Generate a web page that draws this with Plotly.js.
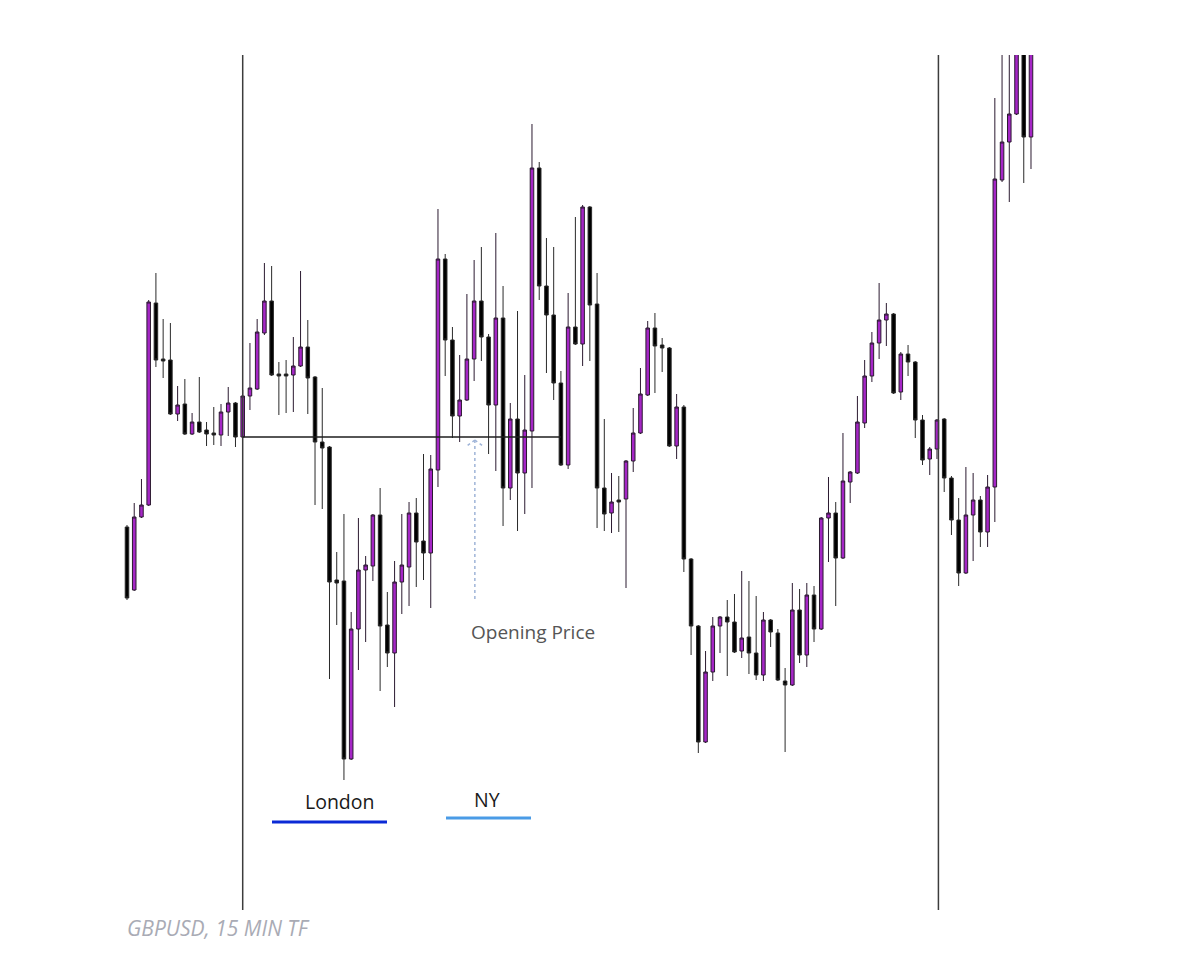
<!DOCTYPE html>
<html>
<head>
<meta charset="utf-8">
<script src="https://cdn.plot.ly/plotly-3.0.1.min.js"></script>
<style>
  html, body { margin: 0; padding: 0; background: #ffffff; }
  #chart { width: 1200px; height: 963px; }
</style>
</head>
<body>
<div id="chart"></div>
<script>
// GBPUSD 15-minute candles
const openPrice = [
  1.2473,1.2410,1.2483,1.2495,1.2697,1.2641,1.2640,1.2586,1.2596,1.2566,
  1.2578,1.2570,1.2567,1.2565,1.2588,1.2597,1.2563,1.2604,1.2611,1.2667,
  1.2699,1.2626,1.2626,1.2625,1.2634,1.2653,1.2623,1.2558,1.2553,1.2420,
  1.2419,1.2241,1.2371,1.2430,1.2434,1.2485,1.2375,1.2347,1.2418,1.2433,
  1.2487,1.2459,1.2447,1.2530,1.2741,1.2660,1.2584,1.2600,1.2641,1.2699,
  1.2663,1.2595,1.2682,1.2512,1.2581,1.2527,1.2569,1.2832,1.2714,1.2685,
  1.2617,1.2535,1.2673,1.2656,1.2793,1.2696,1.2512,1.2487,1.2500,1.2501,
  1.2539,1.2567,1.2605,1.2672,1.2655,1.2652,1.2554,1.2593,1.2441,1.2374,
  1.2258,1.2328,1.2374,1.2383,1.2378,1.2349,1.2363,1.2347,1.2325,1.2380,
  1.2367,1.2319,1.2315,1.2390,1.2345,1.2405,1.2371,1.2482,1.2487,1.2442,
  1.2518,1.2527,1.2577,1.2624,1.2657,1.2680,1.2686,1.2608,1.2646,1.2638,
  1.2580,1.2541,1.2551,1.2581,1.2522,1.2480,1.2427,1.2485,1.2500,1.2468,
  1.2513,1.2820,1.2858,1.2886,1.2970,1.2863
];
const highPrice = [
  1.2475,1.2497,1.2521,1.2700,1.2727,1.2681,1.2677,1.2614,1.2621,1.2587,
  1.2623,1.2578,1.2593,1.2596,1.2613,1.2598,1.2610,1.2657,1.2681,1.2737,
  1.2734,1.2638,1.2640,1.2663,1.2729,1.2680,1.2624,1.2612,1.2554,1.2448,
  1.2486,1.2388,1.2482,1.2444,1.2486,1.2512,1.2408,1.2439,1.2486,1.2498,
  1.2502,1.2546,1.2545,1.2791,1.2746,1.2673,1.2645,1.2706,1.2740,1.2753,
  1.2666,1.2767,1.2714,1.2597,1.2689,1.2625,1.2876,1.2838,1.2762,1.2753,
  1.2629,1.2707,1.2783,1.2795,1.2794,1.2727,1.2581,1.2527,1.2524,1.2540,
  1.2592,1.2632,1.2679,1.2687,1.2662,1.2653,1.2606,1.2595,1.2442,1.2375,
  1.2349,1.2383,1.2384,1.2400,1.2406,1.2429,1.2419,1.2404,1.2388,1.2381,
  1.2371,1.2332,1.2417,1.2411,1.2417,1.2414,1.2483,1.2523,1.2498,1.2567,
  1.2529,1.2604,1.2640,1.2668,1.2717,1.2697,1.2687,1.2648,1.2655,1.2639,
  1.2585,1.2553,1.2581,1.2582,1.2524,1.2502,1.2533,1.2527,1.2504,1.2525,
  1.2902,1.2960,1.2965,1.2980,1.2980,1.2980
];
const lowPrice = [
  1.2400,1.2409,1.2482,1.2494,1.2633,1.2622,1.2585,1.2579,1.2565,1.2565,
  1.2567,1.2554,1.2555,1.2554,1.2564,1.2553,1.2562,1.2590,1.2610,1.2665,
  1.2624,1.2585,1.2587,1.2588,1.2633,1.2586,1.2495,1.2491,1.2321,1.2375,
  1.2220,1.2240,1.2330,1.2358,1.2419,1.2309,1.2333,1.2293,1.2386,1.2394,
  1.2413,1.2420,1.2392,1.2513,1.2624,1.2562,1.2558,1.2599,1.2619,1.2639,
  1.2546,1.2529,1.2474,1.2500,1.2469,1.2486,1.2512,1.2700,1.2627,1.2600,
  1.2534,1.2531,1.2655,1.2634,1.2639,1.2472,1.2469,1.2467,1.2468,1.2412,
  1.2528,1.2566,1.2604,1.2607,1.2628,1.2553,1.2541,1.2428,1.2345,1.2247,
  1.2257,1.2319,1.2347,1.2324,1.2347,1.2342,1.2326,1.2320,1.2319,1.2353,
  1.2319,1.2248,1.2314,1.2337,1.2333,1.2358,1.2370,1.2438,1.2394,1.2441,
  1.2497,1.2526,1.2572,1.2618,1.2641,1.2654,1.2606,1.2600,1.2624,1.2562,
  1.2535,1.2525,1.2541,1.2508,1.2465,1.2414,1.2426,1.2439,1.2453,1.2453,
  1.2478,1.2818,1.2798,1.2885,1.2817,1.2831
];
const closePrice = [
  1.2402,1.2483,1.2495,1.2698,1.2640,1.2639,1.2586,1.2595,1.2566,1.2578,
  1.2568,1.2566,1.2565,1.2588,1.2597,1.2563,1.2604,1.2612,1.2668,1.2699,
  1.2625,1.2624,1.2624,1.2634,1.2653,1.2622,1.2558,1.2552,1.2418,1.2417,
  1.2241,1.2371,1.2430,1.2435,1.2485,1.2374,1.2347,1.2418,1.2435,1.2487,
  1.2458,1.2447,1.2531,1.2741,1.2660,1.2584,1.2600,1.2641,1.2699,1.2663,
  1.2595,1.2682,1.2512,1.2581,1.2527,1.2570,1.2832,1.2714,1.2685,1.2617,
  1.2535,1.2673,1.2656,1.2793,1.2695,1.2512,1.2486,1.2498,1.2498,1.2539,
  1.2567,1.2606,1.2672,1.2654,1.2652,1.2554,1.2593,1.2441,1.2374,1.2258,
  1.2328,1.2374,1.2383,1.2378,1.2348,1.2362,1.2347,1.2325,1.2380,1.2368,
  1.2320,1.2315,1.2390,1.2345,1.2405,1.2371,1.2482,1.2487,1.2442,1.2519,
  1.2528,1.2578,1.2624,1.2657,1.2680,1.2686,1.2607,1.2646,1.2638,1.2580,
  1.2540,1.2551,1.2580,1.2522,1.2480,1.2427,1.2485,1.2500,1.2468,1.2513,
  1.2821,1.2858,1.2886,1.2970,1.2863,1.2970
];
const barIndex = openPrice.map((_, i) => i);   // one 15-minute bar per index
const londonOpenBar = 16;     // bar where the London session starts
const secondMarkerBar = 112;  // bar of the second vertical marker
const openLineEndBar = 60;    // last bar reached by the opening-price line

const sessionLabels = ["London", "NY"];
const sessionColors = ["#0b2ad6", "#4a9be6"];
const captionText = "GBPUSD, 15 MIN TF";
const openingLabel = "Opening Price";

const openLevel = openPrice[londonOpenBar];
const arrowBar = 48.1;
const arrowBottom = 1.2400;

const trace = {
  type: "candlestick",
  x: barIndex,
  open: openPrice,
  high: highPrice,
  low: lowPrice,
  close: closePrice,
  increasing: { fillcolor: "#a526c6", line: { color: "#2b1a30", width: 1 } },
  decreasing: { fillcolor: "#000000", line: { color: "#2a2a2a", width: 1 } },
  whiskerwidth: 0,
  hoverinfo: "skip",
  showlegend: false
};

// pixel helpers for decorations (plot area = full width, y 55..910)
const px = v => v / 1200;
const py = v => (910 - v) / 855;

const layout = {
  width: 1200,
  height: 963,
  margin: { l: 0, r: 0, t: 55, b: 53 },
  paper_bgcolor: "#ffffff",
  plot_bgcolor: "#ffffff",
  showlegend: false,
  xaxis: {
    range: [-17.56, 148.37],
    visible: false,
    showgrid: false,
    zeroline: false,
    rangeslider: { visible: false },
    fixedrange: true
  },
  yaxis: {
    range: [1.2090, 1.2945],
    visible: false,
    showgrid: false,
    zeroline: false,
    fixedrange: true
  },
  shapes: [
    { type: "line", xref: "x", yref: "paper", x0: londonOpenBar, x1: londonOpenBar, y0: 0, y1: 1,
      line: { color: "#3c3c3c", width: 1.5 }, layer: "above" },
    { type: "line", xref: "x", yref: "paper", x0: secondMarkerBar + 0.2, x1: secondMarkerBar + 0.2, y0: 0, y1: 1,
      line: { color: "#3c3c3c", width: 1.5 }, layer: "above" },
    { type: "line", xref: "x", yref: "y", x0: londonOpenBar, x1: openLineEndBar, y0: openLevel, y1: openLevel,
      line: { color: "#1e1e1e", width: 1.5 }, layer: "above" },
    { type: "line", xref: "x", yref: "y", x0: arrowBar, x1: arrowBar, y0: openLevel - 0.0003, y1: arrowBottom,
      line: { color: "#9fb4d8", width: 1.5, dash: "dot" }, layer: "above" },
    { type: "line", xref: "x", yref: "y", x0: arrowBar, x1: arrowBar - 1.3, y0: openLevel - 0.0003, y1: openLevel - 0.0010,
      line: { color: "#9fb4d8", width: 1.5, dash: "dot" }, layer: "above" },
    { type: "line", xref: "x", yref: "y", x0: arrowBar, x1: arrowBar + 1.3, y0: openLevel - 0.0003, y1: openLevel - 0.0010,
      line: { color: "#9fb4d8", width: 1.5, dash: "dot" }, layer: "above" },
    { type: "line", xref: "paper", yref: "paper", x0: px(272), x1: px(387), y0: py(822), y1: py(822),
      line: { color: sessionColors[0], width: 3 } },
    { type: "line", xref: "paper", yref: "paper", x0: px(446), x1: px(531), y0: py(818), y1: py(818),
      line: { color: sessionColors[1], width: 3 } }
  ],
  annotations: [
    { xref: "paper", yref: "paper", x: px(533), y: py(632), text: openingLabel, showarrow: false,
      xanchor: "center", yanchor: "middle",
      font: { family: "Open Sans, sans-serif", size: 19, color: "#555555" } },
    { xref: "paper", yref: "paper", x: px(340), y: py(801), text: sessionLabels[0], showarrow: false,
      xanchor: "center", yanchor: "middle",
      font: { family: "Open Sans, sans-serif", size: 19.5, color: "#1a1a1a" } },
    { xref: "paper", yref: "paper", x: px(487), y: py(799), text: sessionLabels[1], showarrow: false,
      xanchor: "center", yanchor: "middle",
      font: { family: "Open Sans, sans-serif", size: 19.5, color: "#1a1a1a" } },
    { xref: "paper", yref: "paper", x: px(218), y: py(928), text: "<i>" + captionText + "</i>", showarrow: false,
      xanchor: "center", yanchor: "middle",
      font: { family: "Open Sans, sans-serif", size: 21, color: "#a9abb5" } }
  ]
};

Plotly.newPlot("chart", [trace], layout, { displayModeBar: false, staticPlot: true });
</script>
</body>
</html>
